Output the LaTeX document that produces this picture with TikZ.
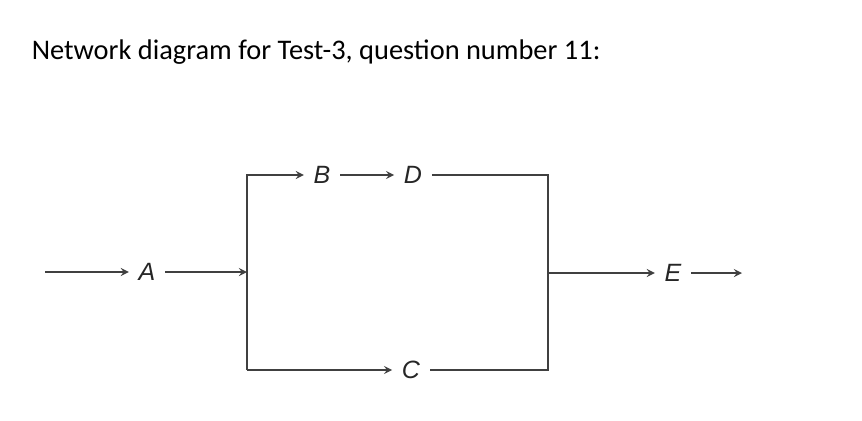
\documentclass[tikz,border=0pt]{standalone}
\usepackage{fontspec}
\setmainfont{Carlito}
\newfontfamily\labelfont{Liberation Sans}
\usepackage{tikz}

\begin{document}
\begin{tikzpicture}[x=0.5pt,y=-0.5pt,line width=0.8pt,
        act/.style={font=\labelfont\itshape\fontsize{12.5}{14}\selectfont, inner sep=4.5pt, text=black!85},
        >=stealth]
        \useasboundingbox (0,0) rectangle (862,420);

        % Title
        \node[anchor=base west, inner sep=0pt, font=\fontsize{14.2}{17}\selectfont] (title) at (31,59)
              {Network diagram for Test-3, question number 11:};

        % Activities
        \node[act] (A) at (147,272) {A};
        \node[act] (B) at (322,175) {B};
        \node[act] (D) at (413,175) {D};
        \node[act] (C) at (411,370) {C};
        \node[act] (E) at (673,273) {E};

        % Junctions
        \coordinate (in) at (45,272);
        \coordinate (split) at (247,272);
        \coordinate (splitbot) at (247,370);
        \coordinate (merge) at (548,273);
        \coordinate (out) at (742,273);

        % Edges
        \draw[black!75] (in) edge[->] (A)
              (A) edge[->] (split)
              (splitbot) edge[->, to path={|- (\tikztotarget)}] (B)
              (splitbot) edge[->] (C)
              (B) edge[->] (D)
              (D) edge[to path={-| (\tikztotarget)}] (merge)
              (merge) edge[to path={|- (\tikztotarget)}] (C)
              (merge) edge[->] (E)
              (E) edge[->] (out);
\end{tikzpicture}
\end{document}
